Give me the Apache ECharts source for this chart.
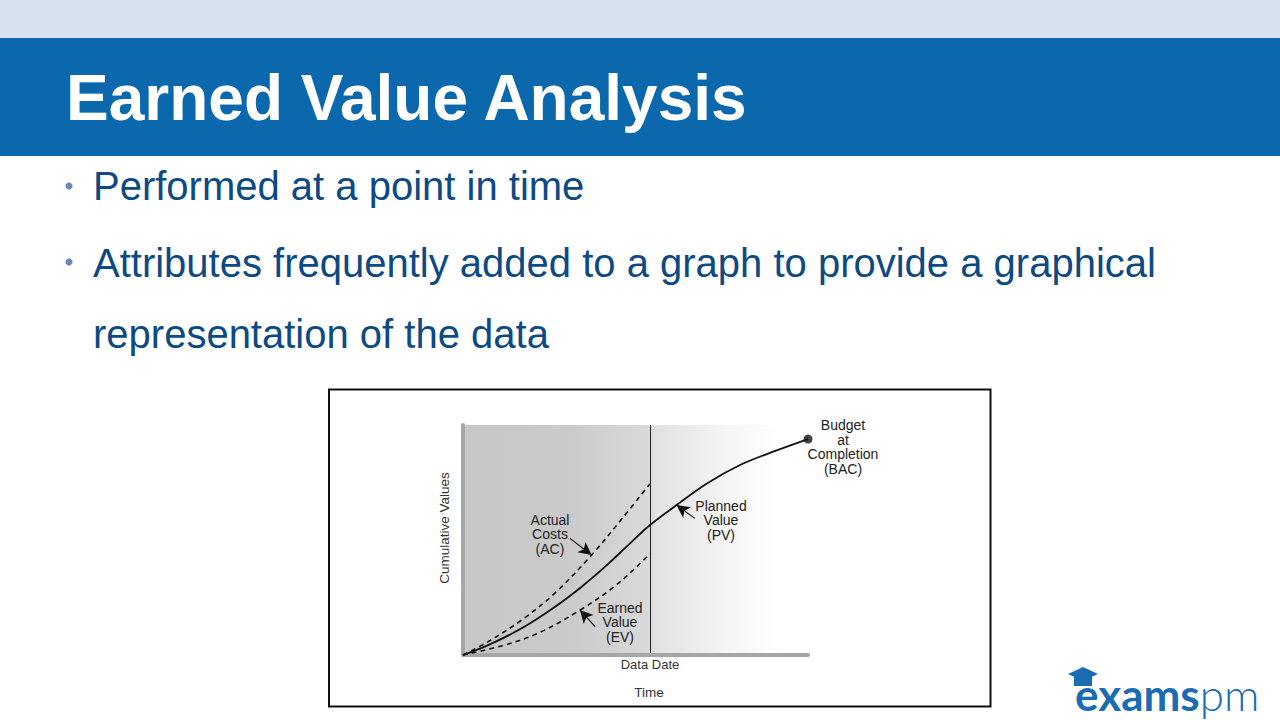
<!DOCTYPE html>
<html>
<head>
<meta charset="utf-8">
<script src="https://cdn.jsdelivr.net/npm/echarts@6/dist/echarts.min.js"></script>
<style>
  html,body{margin:0;padding:0;background:#fff;}
  #c{width:1280px;height:720px;}
</style>
</head>
<body>
<div id="c"></div>
<script>
// ---- slide text ----
const titleText = 'Earned Value Analysis';
const bulletLines = ['Performed at a point in time',
  'Attributes frequently added to a graph to provide a graphical',
  'representation of the data'];

// ---- chart data (time 0..100, cumulative value 0..100) ----
const pvTime = [0, 7.3, 17.0, 26.7, 34.4, 41.2, 47.9, 54.2, 61.9, 70.6, 80.3, 89.9, 100];
const pvValue = [0, 4.3, 11.6, 21.0, 29.7, 38.4, 47.8, 56.5, 65.2, 74.5, 82.6, 88.4, 93.9];
const acTime = [0, 7.3, 17.0, 26.7, 37.3, 46.5, 54.2];
const acValue = [0, 5.8, 15.2, 27.0, 43.5, 60.0, 74.5];
const evTime = [0, 12.0, 21.7, 33.8, 44.5, 54.2];
const evValue = [0, 4.3, 9.4, 19.4, 30.5, 44.0];
const dataDate = 54.2;
const bac = [100, 93.9];
// annotation arrows [tail, tip] in data units
const arrowAC = [[31.0, 50.7], [37.3, 43.5]];
const arrowEV = [[38.3, 12.3], [33.9, 19.6]];
const arrowPV = [[67.2, 59.4], [61.9, 65.2]];

const pair = (xs, ys) => xs.map((x, i) => [x, ys[i]]);

const chart = echarts.init(document.getElementById('c'), null, {renderer: 'svg'});
const lblFont = {fontFamily: 'Liberation Sans, Arial, sans-serif', fontSize: 14, lineHeight: 14.5, fill: '#222'};

const option = {
  animation: false,
  backgroundColor: '#ffffff',
  grid: {left: 463, right: 472, top: 425, bottom: 65},
  xAxis: {
    type: 'value', min: 0, max: 100, z: 6,
    axisLine: {show: true, onZero: false, lineStyle: {color: '#a6a6a6', width: 4}},
    axisTick: {show: false}, axisLabel: {show: false}, splitLine: {show: false}
  },
  yAxis: {
    type: 'value', min: 0, max: 100, z: 6,
    axisLine: {show: true, onZero: false, lineStyle: {color: '#a6a6a6', width: 4}},
    axisTick: {show: false}, axisLabel: {show: false}, splitLine: {show: false}
  },
  series: [
    {
      name: 'bg', type: 'line', data: [], z: 1, silent: true,
      markArea: {
        silent: true,
        itemStyle: {
          color: new echarts.graphic.LinearGradient(0, 0, 1, 0, [
            {offset: 0, color: '#c7c7c7'},
            {offset: 0.3, color: '#cacaca'},
            {offset: 0.54, color: '#d9d9d9'},
            {offset: 0.56, color: '#e2e2e2'},
            {offset: 0.78, color: '#f6f6f6'},
            {offset: 0.92, color: '#ffffff'},
            {offset: 1, color: '#ffffff'}
          ])
        },
        data: [[{xAxis: 0}, {xAxis: 100}]]
      }
    },
    {
      name: 'Planned Value (PV)', type: 'line', z: 8, smooth: 0.35, symbol: 'none', clip: false,
      data: pair(pvTime, pvValue),
      lineStyle: {color: '#111', width: 1.8},
      markLine: {
        silent: true, symbol: ['none', 'none'],
        lineStyle: {color: '#222', width: 1, type: 'solid'},
        label: {show: true, position: 'start', formatter: 'Data Date', color: '#333', fontSize: 13,
          fontFamily: 'Liberation Sans, Arial, sans-serif', distance: 3},
        data: [{xAxis: dataDate}]
      }
    },
    {
      name: 'Actual Costs (AC)', type: 'line', z: 8, smooth: 0.35, symbol: 'none', clip: false,
      data: pair(acTime, acValue),
      lineStyle: {color: '#111', width: 1.6, type: [5, 4]},
      markLine: {
        silent: true, symbol: ['none', 'arrow'], symbolSize: [10, 13],
        lineStyle: {color: '#111', width: 1.2, type: 'solid'},
        label: {show: false},
        data: [
          [{coord: arrowAC[0]}, {coord: arrowAC[1]}],
          [{coord: arrowEV[0]}, {coord: arrowEV[1]}],
          [{coord: arrowPV[0]}, {coord: arrowPV[1]}]
        ]
      }
    },
    {
      name: 'Earned Value (EV)', type: 'line', z: 8, smooth: 0.35, symbol: 'none', clip: false,
      data: pair(evTime, evValue),
      lineStyle: {color: '#111', width: 1.6, type: [5, 4]}
    },
    {
      name: 'BAC', type: 'scatter', z: 9, clip: false, symbolSize: 9,
      itemStyle: {color: '#111'}, data: [bac]
    }
  ],
  graphic: [
    {type: 'rect', z: -10, shape: {x: 0, y: 0, width: 1280, height: 38}, style: {fill: '#d8e2ee'}},
    {type: 'rect', z: -10, shape: {x: 0, y: 38, width: 1280, height: 118}, style: {fill: '#0b68ad'}},
    {type: 'text', z: 10, x: 66, y: 98, style: {text: titleText, fill: '#ffffff',
      font: 'bold 64px "Liberation Sans", Arial, sans-serif', verticalAlign: 'middle', align: 'left'}},
    {type: 'circle', z: 10, shape: {cx: 69, cy: 186, r: 3.6}, style: {fill: '#6e86b9'}},
    {type: 'text', z: 10, x: 93, y: 186, style: {text: bulletLines[0], fill: '#0d4a84',
      font: '40px "Liberation Sans", Arial, sans-serif', verticalAlign: 'middle'}},
    {type: 'circle', z: 10, shape: {cx: 69, cy: 262, r: 3.6}, style: {fill: '#6e86b9'}},
    {type: 'text', z: 10, x: 93, y: 263, style: {text: bulletLines[1], fill: '#0d4a84',
      font: '40px "Liberation Sans", Arial, sans-serif', verticalAlign: 'middle'}},
    {type: 'text', z: 10, x: 93, y: 334, style: {text: bulletLines[2], fill: '#0d4a84',
      font: '40px "Liberation Sans", Arial, sans-serif', verticalAlign: 'middle'}},
    // chart frame
    {type: 'rect', z: -5, shape: {x: 329, y: 389.5, width: 661.5, height: 317}, style: {fill: '#ffffff', stroke: '#111', lineWidth: 2}},
    // axis titles
    {type: 'text', z: 10, x: 444, y: 528, rotation: Math.PI / 2, style: {text: 'Cumulative Values', fill: '#333',
      font: '13.5px "Liberation Sans", Arial, sans-serif', align: 'center', verticalAlign: 'middle'}},
    {type: 'text', z: 10, x: 649, y: 692, style: {text: 'Time', fill: '#333',
      font: '13.5px "Liberation Sans", Arial, sans-serif', align: 'center', verticalAlign: 'middle'}},
    // annotations
    {type: 'text', z: 10, x: 843, y: 447, style: Object.assign({text: 'Budget\nat\nCompletion\n(BAC)', align: 'center', verticalAlign: 'middle'}, lblFont)},
    {type: 'text', z: 10, x: 721, y: 520, style: Object.assign({text: 'Planned\nValue\n(PV)', align: 'center', verticalAlign: 'middle'}, lblFont)},
    {type: 'text', z: 10, x: 620, y: 622, style: Object.assign({text: 'Earned\nValue\n(EV)', align: 'center', verticalAlign: 'middle'}, lblFont)},
    {type: 'text', z: 10, x: 550, y: 534, style: Object.assign({text: 'Actual\nCosts\n(AC)', align: 'center', verticalAlign: 'middle'}, lblFont)},
    // logo
    {type: 'polygon', z: 10, shape: {points: [[1068, 674], [1083, 667], [1098, 674], [1083, 681]]}, style: {fill: '#1b6db3'}},
    {type: 'polygon', z: 10, shape: {points: [[1074, 677], [1092, 677], [1092, 686], [1074, 686]]}, style: {fill: '#1b6db3'}},
    {type: 'text', z: 10, x: 1075, y: 694, style: {
      text: '{a|exams}{b|pm}', verticalAlign: 'middle', align: 'left',
      rich: {
        a: {fontFamily: 'Lato, "Liberation Sans", sans-serif', fontWeight: 'bold', fontSize: 44, fill: '#1b6db3'},
        b: {fontFamily: 'Lato, "Liberation Sans", sans-serif', fontWeight: 300, fontSize: 44, fill: '#1b6db3'}
      }}}
  ]
};
chart.setOption(option);
</script>
</body>
</html>
